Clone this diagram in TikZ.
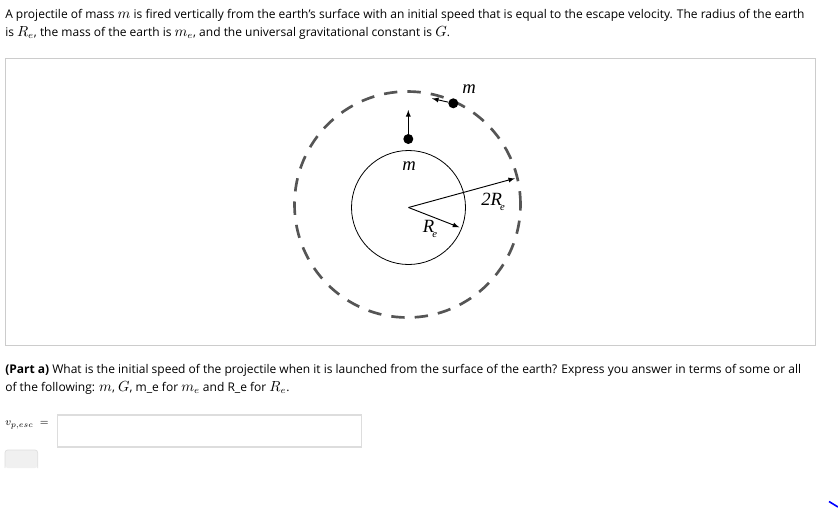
\documentclass[tikz,border=0pt]{standalone}
\usepackage{fontspec}
\setmainfont{Open Sans}
\newfontfamily\figfont{Liberation Serif}
\definecolor{framegray}{RGB}{204,204,204}
\definecolor{dashgray}{RGB}{85,85,85}
\definecolor{boxgray}{RGB}{221,221,221}
\definecolor{btngray}{RGB}{240,240,240}
\newcommand{\subE}{\kern-1.5pt\raisebox{-4pt}{\fontsize{8}{8}\selectfont e}}
\newcommand{\mj}[1]{{\fontsize{10.5}{13.5}\selectfont$#1$}}
\tikzset{%
    txt/.style={anchor=west, inner sep=0pt, align=left,
        font=\fontsize{9}{13.5}\selectfont},
    lbl/.style={inner sep=0pt, font=\figfont\itshape\fontsize{14}{14}\selectfont},
    dot/.style={circle, fill, inner sep=0pt, minimum size=7.5pt},
    earth/.style={circle, draw, line width=0.6pt, inner sep=0pt,
        minimum size=85.5pt},
    orbit/.style={circle, draw=dashgray, line width=2pt, inner sep=0pt,
        minimum size=169.5pt, dash pattern=on 10pt off 7.6pt},
    vec/.style={-latex, line width=0.7pt}
}

\begin{document}
\begin{tikzpicture}[x=0.75pt, y=-0.75pt]
  \useasboundingbox (0,0) rectangle (838,507);

  % question
  \node (q1) [txt] at (5,15) {A projectile of mass \mj{m} is fired vertically from the earth's surface with an initial speed that is equal to the escape velocity. The radius of the earth};
  \node (q2) [txt] at (5,33) {is \mj{R_e}, the mass of the earth is \mj{m_e}, and the universal gravitational constant is \mj{G}.};

  \draw [framegray, line width=0.6pt] (5,58) rectangle (815,345);

  % figure
  \coordinate (ctr) at (408.5,207.5);
  \node (earth) [earth] at (ctr) {};
  \node (orbit) [orbit] at (407.5,204.5) {};
  \node (proj) [dot] at (408.3,139) {};
  \coordinate (up) at (408.3,110);
  \node (sat) [dot] at (453.3,103.3) {};
  \coordinate (sattip) at (432,98.5);
  \coordinate (rtip) at (459.3,227.3);
  \coordinate (Rtip) at (515,178.3);

  \node (m1) [lbl] at (409,166) {m};
  \node (m2) [lbl] at (469,89.5) {m};
  \node (Re) [lbl] at (430,229) {R\subE};
  \node (Re2) [lbl] at (493,202) {2R\subE};

  \draw [vec] (proj) -- (up);
  \draw [vec] (sat) -- (sattip);
  \draw [vec] (ctr) -- (rtip);
  \draw [vec] (ctr) -- (Rtip);

  % part a
  \node (pa1) [txt] at (5,370) {\textbf{(Part a)} What is the initial speed of the projectile when it is launched from the surface of the earth? Express you answer in terms of some or all};
  \node (pa2) [txt] at (5,388) {of the following: \mj{m}, \mj{G}, m\_e for \mj{m_e} and R\_e for \mj{R_e}.};

  \node (v) [anchor=west, inner sep=0pt, font=\fontsize{8.5}{10}\selectfont] at (5,425) {$v_{p,esc}\;=$};
  \node (ans) [draw=boxgray, line width=1.2pt, inner sep=0pt, minimum width=228pt,
      minimum height=24pt, anchor=north west] at (56.5,414) {};
  \fill [btngray, rounded corners=2pt] (5,468) -- (5,450) -- (37.7,450) -- (37.7,468) -- cycle;
  \draw [boxgray, line width=0.5pt, rounded corners=2pt] (5,468) -- (5,450) -- (37.7,450) -- (37.7,468);

  \coordinate (c1) at (829,501.5);
  \coordinate (c2) at (838,507);
  \draw [blue, line width=1.2pt] (c1) -- (c2);
\end{tikzpicture}
\end{document}
